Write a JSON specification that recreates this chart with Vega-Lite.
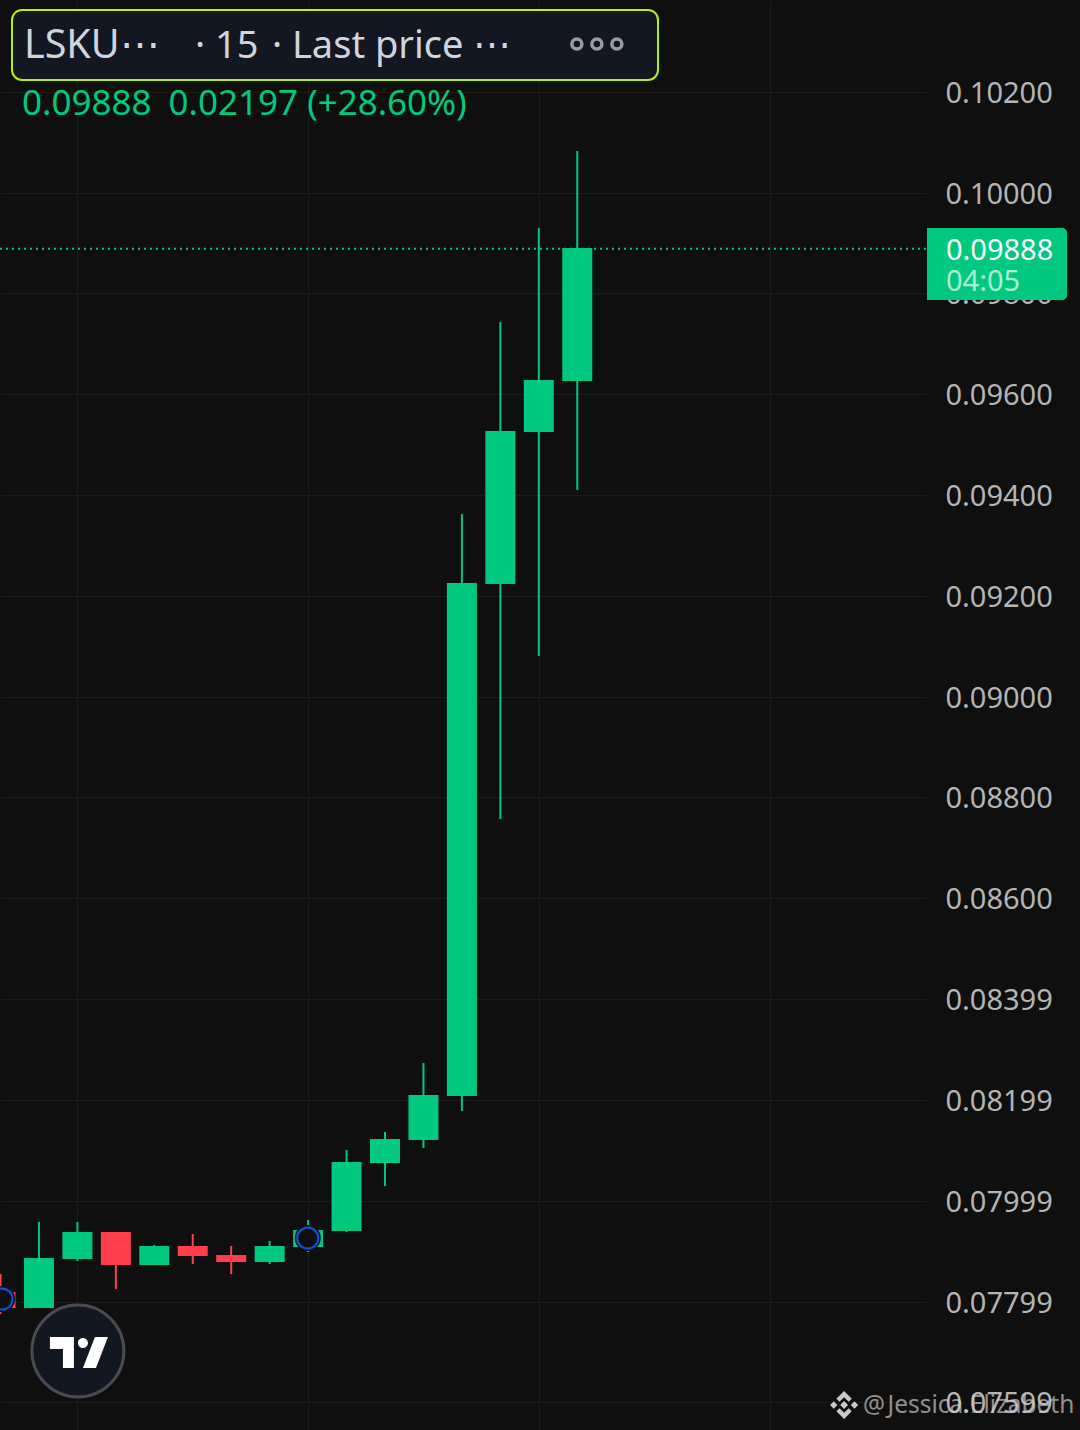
{
  "$schema": "https://vega.github.io/schema/vega-lite/v6.json",
  "width": 927,
  "height": 1430,
  "autosize": "none",
  "padding": {"left": 0, "top": 0, "right": 153, "bottom": 0},
  "background": "#0f0f0f",
  "config": {
    "view": {"stroke": null},
    "text": {"font": "Noto Sans", "align": "left", "baseline": "alphabetic"}
  },
  "datasets": {
    "candles": [
      {"i": 0, "open": 0.078179, "close": 0.077861, "high": 0.078536, "low": 0.077742, "dir": "down"},
      {"i": 1, "open": 0.077861, "close": 0.078854, "high": 0.079568, "low": 0.077861, "dir": "up"},
      {"i": 2, "open": 0.078834, "close": 0.07937, "high": 0.079568, "low": 0.078794, "dir": "up"},
      {"i": 3, "open": 0.07937, "close": 0.078715, "high": 0.07937, "low": 0.078238, "dir": "down"},
      {"i": 4, "open": 0.078715, "close": 0.079092, "high": 0.079112, "low": 0.078715, "dir": "up"},
      {"i": 5, "open": 0.079092, "close": 0.078893, "high": 0.07933, "low": 0.078735, "dir": "down"},
      {"i": 6, "open": 0.078913, "close": 0.078774, "high": 0.079092, "low": 0.078536, "dir": "down"},
      {"i": 7, "open": 0.078774, "close": 0.079092, "high": 0.079191, "low": 0.078735, "dir": "up"},
      {"i": 8, "open": 0.079072, "close": 0.079409, "high": 0.079608, "low": 0.078973, "dir": "up"},
      {"i": 9, "open": 0.07939, "close": 0.080759, "high": 0.080998, "low": 0.07937, "dir": "up"},
      {"i": 10, "open": 0.080739, "close": 0.081216, "high": 0.081355, "low": 0.080283, "dir": "up"},
      {"i": 11, "open": 0.081196, "close": 0.082089, "high": 0.082725, "low": 0.081037, "dir": "up"},
      {"i": 12, "open": 0.082069, "close": 0.092253, "high": 0.093623, "low": 0.081772, "dir": "up"},
      {"i": 13, "open": 0.092233, "close": 0.09527, "high": 0.097434, "low": 0.087568, "dir": "up"},
      {"i": 14, "open": 0.095251, "close": 0.096283, "high": 0.0993, "low": 0.090804, "dir": "up"},
      {"i": 15, "open": 0.096263, "close": 0.098903, "high": 0.100829, "low": 0.094099, "dir": "up"}
    ]
  },
  "encoding": {
    "x": {
      "field": "i",
      "type": "quantitative",
      "title": null,
      "scale": {"domain": [-0.013, 24.096], "nice": false, "zero": false, "padding": 0},
      "axis": {
        "values": [2, 8, 14, 20],
        "grid": true,
        "gridColor": "#1b1b1b",
        "labels": false,
        "ticks": false,
        "domain": false,
        "title": null
      }
    },
    "y": {
      "field": "price",
      "type": "quantitative",
      "title": null,
      "scale": {"domain": [0.07544, 0.103826], "nice": false, "zero": false, "padding": 0},
      "axis": {
        "orient": "right",
        "values": [0.102, 0.1, 0.098, 0.096, 0.094, 0.092, 0.09, 0.088, 0.086, 0.08399, 0.08199, 0.07999, 0.07799, 0.07599],
        "format": ".5f",
        "grid": true,
        "gridColor": "#1b1b1b",
        "ticks": false,
        "domain": false,
        "title": null,
        "labelPadding": 18,
        "labelOffset": 1.5,
        "labelOverlap": false,
        "labelFlush": false,
        "labelBound": false,
        "labelFont": "Noto Sans",
        "labelFontSize": 29,
        "labelColor": "#b4b4b4"
      }
    }
  },
  "layer": [
    {
      "data": {"name": "candles"},
      "mark": {"type": "rule", "strokeWidth": 2},
      "encoding": {
        "y": {"field": "low", "type": "quantitative", "title": null},
        "y2": {"field": "high"},
        "color": {
          "field": "dir",
          "type": "nominal",
          "legend": null,
          "scale": {"domain": ["up", "down"], "range": ["#00c97f", "#ff3d4d"]}
        }
      }
    },
    {
      "data": {"name": "candles"},
      "mark": {"type": "bar", "size": 30},
      "encoding": {
        "y": {"field": "open", "type": "quantitative", "title": null},
        "y2": {"field": "close"},
        "color": {"field": "dir", "type": "nominal", "legend": null}
      }
    },
    {
      "data": {"values": [{"i": 0.04, "price": 0.07804}, {"i": 7.99, "price": 0.079251}]},
      "mark": {"type": "point", "shape": "circle", "size": 676, "filled": true, "fill": "#0f0f0f", "fillOpacity": 1, "strokeWidth": 0}
    },
    {
      "data": {"values": [{"i": 0.04, "price": 0.07804}, {"i": 7.99, "price": 0.079251}]},
      "mark": {"type": "point", "shape": "circle", "size": 440, "filled": false, "fill": "#0f0f0f", "fillOpacity": 1, "stroke": "#0d4fd6", "strokeWidth": 2.2}
    },
    {
      "data": {"values": [{"price": 0.09889}]},
      "mark": {"type": "rule", "stroke": "#00c97f", "strokeWidth": 2, "strokeDash": [2, 4]},
      "encoding": {"x": {"value": 0}, "x2": {"value": 927}}
    },
    {
      "data": {"values": [{"i": 24.096, "i2": 27.74, "price": 0.0993, "price2": 0.097871}]},
      "mark": {"type": "rect", "fill": "#00c97f", "cornerRadiusTopRight": 5, "cornerRadiusBottomRight": 5},
      "encoding": {"x2": {"field": "i2"}, "y2": {"field": "price2"}}
    },
    {
      "data": {"values": [{"i": 0.299, "i2": 17.1, "price": 0.103628, "price2": 0.102238}]},
      "mark": {"type": "rect", "fill": "#131722", "stroke": "#b9ee0c", "strokeWidth": 2, "cornerRadius": 10},
      "encoding": {"x2": {"field": "i2"}, "y2": {"field": "price2"}}
    },
    {
      "data": {"values": [{"i": 0.61, "price": 0.102675, "label": "LSKU⋯"}]},
      "mark": {"type": "text", "fontSize": 39.5, "fill": "#d1d4dc"},
      "encoding": {"text": {"field": "label"}}
    },
    {
      "data": {"values": [
        {"i": 5.06, "price": 0.102675, "label": "· 15"},
        {"i": 7.06, "price": 0.102675, "label": "·"},
        {"i": 7.58, "price": 0.102675, "label": "Last price"},
        {"i": 12.29, "price": 0.102675, "label": "⋯"}
      ]},
      "mark": {"type": "text", "fontSize": 38, "fill": "#d1d4dc"},
      "encoding": {"text": {"field": "label"}}
    },
    {
      "data": {"values": [{"i": 14.99, "price": 0.102953}, {"i": 15.51, "price": 0.102953}, {"i": 16.03, "price": 0.102953}]},
      "mark": {"type": "point", "shape": "circle", "size": 100, "filled": false, "stroke": "#d1d4dc", "strokeWidth": 3.5}
    },
    {
      "data": {"values": [
        {"i": 0.56, "price": 0.101543, "label": "0.09888"},
        {"i": 4.37, "price": 0.101543, "label": "0.02197 (+28.60%)"}
      ]},
      "mark": {"type": "text", "fontSize": 35, "fill": "#00c97f"},
      "encoding": {"text": {"field": "label"}}
    },
    {
      "data": {"values": [{"i": 24.59, "price": 0.098665, "label": "0.09888"}]},
      "mark": {"type": "text", "fontSize": 29, "fill": "#ffffff"},
      "encoding": {"text": {"field": "label"}}
    },
    {
      "data": {"values": [{"i": 24.59, "price": 0.09805, "label": "04:05"}]},
      "mark": {"type": "text", "fontSize": 29, "fill": "#a9eed3"},
      "encoding": {"text": {"field": "label"}}
    },
    {
      "data": {"values": [{"i": 2.013, "price": 0.077008}]},
      "mark": {"type": "point", "shape": "circle", "size": 8464, "filled": false, "fill": "#131722", "fillOpacity": 1, "stroke": "#4a4b52", "strokeWidth": 3}
    },
    {
      "data": {"values": [{"i": 2.04, "price": 0.07699}]},
      "mark": {
        "type": "point",
        "filled": true,
        "fill": "#ffffff",
        "fillOpacity": 1,
        "strokeWidth": 0,
        "size": 3600,
        "shape": "M-.967 -.5L-.167 -.5L-.167 .533L-.533 .533L-.533 -.1L-.967 -.1ZM.533 -.5L.967 -.5L.567 .533L.133 .533ZM-.034 -.3A.167 .167 0 1 1 .3 -.3A.167 .167 0 1 1 -.034 -.3Z"
      }
    },
    {
      "data": {"values": [{"i": 21.94, "price": 0.075936}]},
      "mark": {
        "type": "point",
        "filled": true,
        "fill": "#d4d4d4",
        "fillOpacity": 0.95,
        "strokeWidth": 0,
        "size": 784,
        "shape": "M0 -.28L.28 0L0 .28L-.28 0ZM0 -1L.55 -.45L.33 -.23L0 -.56L-.33 -.23L-.55 -.45ZM0 1L.55 .45L.33 .23L0 .56L-.33 .23L-.55 .45ZM-.74 -.26L-.48 0L-.74 .26L-1 0ZM.74 -.26L1 0L.74 .26L.48 0Z"
      }
    },
    {
      "data": {"values": [
        {"i": 22.43, "price": 0.075777, "label": "@"},
        {"i": 23.07, "price": 0.075777, "label": "Jessica.Elizabeth"}
      ]},
      "mark": {"type": "text", "fontSize": 24.5, "fill": "#d4d4d4", "opacity": 0.65},
      "encoding": {"text": {"field": "label"}}
    }
  ]
}
